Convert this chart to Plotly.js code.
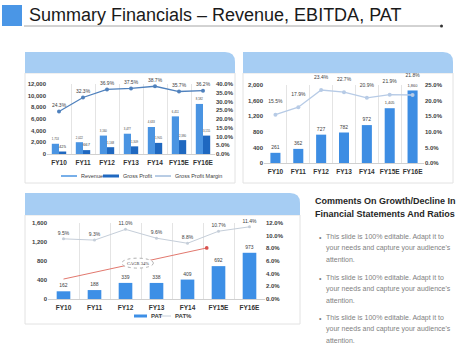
<!DOCTYPE html>
<html><head><meta charset="utf-8">
<script src="https://cdn.plot.ly/plotly-3.0.1.min.js"></script>
<style>html,body{margin:0;padding:0;background:#fff}#chart{width:474px;height:351px}</style>
</head><body><div id="chart"></div>
<script>
const W = 474, H = 351;
// ---- data ----
const years = ['FY10','FY11','FY12','FY13','FY14','FY15E','FY16E'];
const revenue = [1753, 2022, 3160, 3477, 4633, 6451, 8582];
const grossProfit = [425, 667, 1168, 1309, 1905, 2380, 3155];
const grossMargin = [24.3, 32.3, 36.9, 37.5, 38.7, 35.7, 36.2];
const ebitda = [261, 362, 727, 782, 972, 1405, 1860];
const ebitdaMargin = [15.5, 17.9, 23.4, 22.7, 20.9, 21.9, 21.8];
const pat = [162, 188, 339, 338, 409, 692, 973];
const patMargin = [9.5, 9.3, 11.0, 9.6, 8.8, 10.7, 11.4];
const cagrLabel = 'CAGR 34%';
const cagrStartEnd = [420, 1075];
const titleText = 'Summary Financials \u2013 Revenue, EBITDA, PAT';
const commentHead = ['Comments On Growth/Decline In', 'Financial Statements And Ratios'];
const commentLines = ['This slide is 100% editable. Adapt it to', "your needs and capture your audience's", 'attention.'];

// ---- helpers ----
const px = x => x / W;
const py = y => 1 - y / H;
const FONT = 'Liberation Sans, Arial, sans-serif';
const tickFont = {family: FONT, size: 6, color: '#404040', weight: 700};
const catFont = {family: FONT, size: 6.5, color: '#333', weight: 700};
const lblFont = {family: FONT, size: 5, color: '#404040'};

const C_REV = '#4A94E2', C_GP = '#1F68C0', C_GPM = '#4F81BD';
const C_EB = '#3D8DE3', C_EBM = '#B7CBE6', C_PAT = '#3D8FE6', C_PATM = '#C5CED9';

function xAx(x0, x1, anchor) {
  return {domain: [px(x0), px(x1)], anchor: anchor, type: 'category', tickson: 'boundaries',
    showgrid: true, gridcolor: '#E4E4E4', gridwidth: 1, showline: true, linecolor: '#D0D0D0',
    ticks: '', tickangle: 0, tickfont: catFont, fixedrange: true, ticklabelstandoff: 2};
}
function yAx(y0, y1, anchor, range, dtick, fmt) {
  return {domain: [py(y1), py(y0)], anchor: anchor, range: range, dtick: dtick, tick0: 0,
    tickformat: fmt, showgrid: false, zeroline: false, showline: false,
    ticks: '', tickfont: tickFont, fixedrange: true};
}
function yAxR(over, anchor, range, dtick) {
  return {overlaying: over, anchor: anchor, side: 'right', range: range, dtick: dtick, tick0: 0,
    tickformat: '.1f', ticksuffix: '%', showgrid: false, zeroline: false, showline: false,
    ticks: '', tickfont: tickFont, fixedrange: true};
}

// EBITDA% labels sit higher than the bar labels; the last one clears the tall FY16E bar label
const ebitdaMarginText = ebitdaMargin.map(function (v, i) {
  return v.toFixed(1) + '%' + (i === ebitdaMargin.length - 1 ? '<br> <br> ' : '<br> ');
});

const traces = [
  {type: 'bar', name: 'Revenue', x: years, y: revenue, xaxis: 'x', yaxis: 'y',
   offset: -0.3, width: 0.3, marker: {color: C_REV}, texttemplate: '%{y:,}',
   textposition: 'outside', textfont: lblFont, cliponaxis: false},
  {type: 'bar', name: 'Gross Profit', x: years, y: grossProfit, xaxis: 'x', yaxis: 'y',
   offset: 0, width: 0.3, marker: {color: C_GP}, texttemplate: '%{y:,}',
   textposition: 'outside', textfont: lblFont, cliponaxis: false},
  {type: 'scatter', mode: 'lines+markers+text', name: 'Gross Profit Margin', x: years, y: grossMargin,
   xaxis: 'x', yaxis: 'y2', line: {color: C_GPM, width: 1.3}, marker: {size: 4, color: C_GPM},
   texttemplate: '%{y:.1f}%', textposition: 'top center', textfont: lblFont, cliponaxis: false},

  {type: 'bar', name: 'EBITDA', x: years, y: ebitda, xaxis: 'x2', yaxis: 'y3',
   offset: -0.22, width: 0.44, marker: {color: C_EB}, texttemplate: '%{y:,}',
   textposition: 'outside', textfont: lblFont, cliponaxis: false},
  {type: 'scatter', mode: 'lines+markers+text', name: 'EBITDA%', x: years, y: ebitdaMargin,
   xaxis: 'x2', yaxis: 'y4', line: {color: C_EBM, width: 1.3}, marker: {size: 4, color: C_EBM},
   text: ebitdaMarginText, texttemplate: '%{text}', textposition: 'top center', textfont: lblFont, cliponaxis: false},

  {type: 'bar', name: 'PAT', x: years, y: pat, xaxis: 'x3', yaxis: 'y5',
   offset: -0.22, width: 0.44, marker: {color: C_PAT}, texttemplate: '%{y:,}',
   textposition: 'outside', textfont: lblFont, cliponaxis: false},
  {type: 'scatter', mode: 'lines+markers+text', name: 'PAT%', x: years, y: patMargin,
   xaxis: 'x3', yaxis: 'y6', line: {color: C_PATM, width: 1}, marker: {size: 3, color: C_PATM},
   texttemplate: '%{y:.1f}%', textposition: 'top center', textfont: lblFont, cliponaxis: false}
];

// panels
function panel(x0, x1, yt, yb, ybot) {
  const r = 10;
  const path = 'M' + px(x0) + ',' + py(yb) + ' L' + px(x0) + ',' + py(yt) + ' L' + px(x1 - r) + ',' + py(yt) +
    ' Q' + px(x1) + ',' + py(yt) + ' ' + px(x1) + ',' + py(yt + r) + ' L' + px(x1) + ',' + py(yb) + ' Z';
  return [
    {type: 'rect', xref: 'paper', yref: 'paper', x0: px(x0), x1: px(x1), y0: py(ybot), y1: py(yb),
     line: {color: '#E2E2E2', width: 1}, fillcolor: '#FFFFFF', layer: 'below'},
    {type: 'path', xref: 'paper', yref: 'paper', path: path, line: {width: 0}, fillcolor: '#A6CDF3', layer: 'below'}
  ];
}
const shapes = [].concat(
  panel(25, 235, 52, 73, 183),
  panel(243, 453, 52, 73, 183),
  panel(25, 300, 193, 215, 324),
  [
    {type: 'rect', xref: 'paper', yref: 'paper', x0: px(2), x1: px(22), y0: py(26), y1: py(5),
     line: {width: 0}, fillcolor: '#4A96E6'},
    {type: 'line', xref: 'paper', yref: 'paper', x0: px(24), x1: px(440), y0: py(26), y1: py(26),
     line: {color: '#A6A6A6', width: 1}},
    {type: 'circle', xref: 'paper', yref: 'paper', x0: px(440), x1: px(443), y0: py(27.5), y1: py(24.5),
     line: {width: 0}, fillcolor: '#333'},
    // CAGR trend line
    {type: 'line', xref: 'x3', yref: 'y5', x0: 0, x1: 4.62, y0: cagrStartEnd[0], y1: cagrStartEnd[1],
     line: {color: '#E2786E', width: 1}},
    {type: 'circle', xref: 'x3', yref: 'y5', x0: 4.56, x1: 4.68, y0: cagrStartEnd[1] - 40, y1: cagrStartEnd[1] + 40,
     line: {width: 0}, fillcolor: '#D9534F'},
    {type: 'circle', xref: 'x3', yref: 'y5', x0: 1.88, x1: 2.9, y0: 650, y1: 860,
     line: {color: '#9A9A9A', width: 0.8, dash: 'dot'}, fillcolor: '#FFFFFF'}
  ]
);

const annotations = [
  {xref: 'paper', yref: 'paper', x: px(27), y: py(15.5), xanchor: 'left', yanchor: 'middle', showarrow: false,
   text: titleText, font: {family: FONT, size: 18, color: '#1A1A1A'}},
  {xref: 'x3', yref: 'y5', x: 2.39, y: 755, showarrow: false, text: cagrLabel,
   font: {family: 'Liberation Serif, serif', size: 4.5, color: '#333'}},
  {xref: 'paper', yref: 'paper', x: px(313), y: py(201), xanchor: 'left', yanchor: 'middle', showarrow: false,
   text: '<b>' + commentHead[0] + '</b>', font: {family: FONT, size: 9, color: '#262626'}},
  {xref: 'paper', yref: 'paper', x: px(313), y: py(214), xanchor: 'left', yanchor: 'middle', showarrow: false,
   text: '<b>' + commentHead[1] + '</b>', font: {family: FONT, size: 9, color: '#262626'}}
];
const groupTops = [237, 278, 318];
groupTops.forEach(function (gy) {
  annotations.push({xref: 'paper', yref: 'paper', x: px(317), y: py(gy), xanchor: 'left', yanchor: 'middle',
    showarrow: false, text: '\u2022', font: {family: FONT, size: 7, color: '#7F7F7F'}});
  commentLines.forEach(function (t, i) {
    annotations.push({xref: 'paper', yref: 'paper', x: px(324), y: py(gy + i * 11), xanchor: 'left', yanchor: 'middle',
      showarrow: false, text: t, font: {family: FONT, size: 7, color: '#7F7F7F'}});
  });
});

// compact Excel-style legends (key line + trace name)
const legendItems = [
  {name: traces[0].name, color: C_REV, w: 1.5, kx: 61, kl: 16, ly: 176, fs: 5.5, bold: false},
  {name: traces[1].name, color: C_GP, w: 3, kx: 103, kl: 16, ly: 176, fs: 5.5, bold: false},
  {name: traces[2].name, color: C_GPM, w: 0.8, kx: 155, kl: 16, ly: 176, fs: 5.5, bold: false},
  {name: traces[5].name, color: C_PAT, w: 3, kx: 134, kl: 13, ly: 316, fs: 6, bold: true},
  {name: traces[6].name, color: C_PATM, w: 1, kx: 158, kl: 13, ly: 316, fs: 6, bold: true}
];
legendItems.forEach(function (it) {
  shapes.push({type: 'line', xref: 'paper', yref: 'paper', x0: px(it.kx), x1: px(it.kx + it.kl),
    y0: py(it.ly), y1: py(it.ly), line: {color: it.color, width: it.w}});
  annotations.push({xref: 'paper', yref: 'paper', x: px(it.kx + it.kl + 2), y: py(it.ly), xanchor: 'left', yanchor: 'middle',
    showarrow: false, text: it.bold ? '<b>' + it.name + '</b>' : it.name,
    font: {family: FONT, size: it.fs, color: '#404040'}});
});

const layout = {
  width: W, height: H, margin: {l: 0, r: 0, t: 0, b: 0}, paper_bgcolor: '#FFFFFF', plot_bgcolor: 'rgba(0,0,0,0)',
  barmode: 'group', showlegend: false,
  xaxis: xAx(47, 215, 'y'),
  yaxis: yAx(84, 154, 'x', [0, 12000], 2000, ','),
  yaxis2: yAxR('y', 'x', [0, 40], 5),
  xaxis2: xAx(264, 424, 'y3'),
  yaxis3: yAx(85, 163, 'x2', [0, 2000], 400, ','),
  yaxis4: yAxR('y3', 'x2', [0, 25], 5),
  xaxis3: xAx(48, 265, 'y5'),
  yaxis5: yAx(223, 299, 'x3', [0, 1600], 400, ','),
  yaxis6: yAxR('y5', 'x3', [0, 12], 2),
  shapes: shapes,
  annotations: annotations
};

Plotly.newPlot('chart', traces, layout, {staticPlot: true, displayModeBar: false});
</script>
</body></html>
